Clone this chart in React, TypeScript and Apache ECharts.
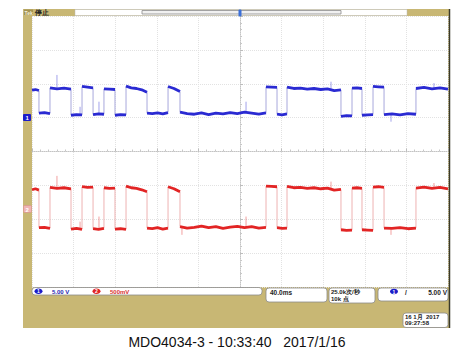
import React, { useEffect, useRef } from "react";
import * as echarts from "echarts";

// Time of each edge (ms from trigger), 40 ms/div
const edgeTimes = [-193.3, -182.7, -162.5, -151.9, -141.3, -130.8, -120.2, -109.6, -89.4, -69.2, -57.7, 25.0, 35.6, 45.2, 97.1, 107.7, 117.3, 127.9, 138.5, 169.2];

// Channel 1 levels per segment (divisions)
const ch1Levels: number[][] = [
  [1.81, 1.83, 1.8],
  [1.13, 1.15, 1.12],
  [1.88, 1.85, 1.87, 1.84],
  [1.07, 1.09, 1.08],
  [1.92, 1.9, 1.88],
  [1.09, 1.11, 1.1],
  [1.85, 1.84, 1.83],
  [1.07, 1.09, 1.08],
  [1.93, 1.88, 1.86, 1.82, 1.75],
  [1.13, 1.12, 1.14, 1.11, 1.15],
  [1.92, 1.86, 1.77],
  [1.16, 1.12, 1.1, 1.14, 1.09, 1.13, 1.11, 1.15, 1.12, 1.16, 1.13, 1.1, 1.14],
  [1.91, 1.9, 1.89],
  [1.1, 1.08, 1.11],
  [1.9, 1.86, 1.87, 1.84, 1.86, 1.83, 1.85, 1.8, 1.82],
  [1.04, 1.06, 1.05],
  [1.87, 1.88, 1.86],
  [1.07, 1.08, 1.09],
  [1.92, 1.91, 1.9],
  [1.09, 1.11, 1.08, 1.12, 1.1],
  [1.86, 1.89, 1.85, 1.88, 1.84],
];

// Channel 2 levels per segment (divisions)
const ch2Levels: number[][] = [
  [-1.13, -1.1, -1.14],
  [-2.25, -2.24, -2.27],
  [-1.06, -1.09, -1.07, -1.1],
  [-2.29, -2.27, -2.3],
  [-1.04, -1.06, -1.05],
  [-2.28, -2.3, -2.27],
  [-1.07, -1.09, -1.08],
  [-2.29, -2.28, -2.3],
  [-1.02, -1.07, -1.09, -1.13, -1.19],
  [-2.26, -2.28, -2.25, -2.29, -2.26],
  [-1.04, -1.1, -1.19],
  [-2.22, -2.26, -2.24, -2.2, -2.25, -2.22, -2.27, -2.23, -2.21, -2.25, -2.22, -2.26, -2.24],
  [-1.02, -1.03, -1.04],
  [-2.25, -2.27, -2.26],
  [-1.03, -1.07, -1.06, -1.09, -1.07, -1.1, -1.08, -1.14, -1.12],
  [-2.31, -2.33, -2.32],
  [-1.08, -1.07, -1.09],
  [-2.31, -2.32, -2.33],
  [-1.05, -1.04, -1.06],
  [-2.26, -2.27, -2.25, -2.28, -2.26],
  [-1.08, -1.05, -1.09, -1.06, -1.1],
];

// Glitches [time ms, peak level]
const ch1Spikes = [[-176, 2.26], [-153.8, 1.32], [-135.6, 1.47], [5.8, 1.47], [87.5, 2.06], [145.2, 0.88], [186.5, 2.02]];
const ch2Spikes = [[-176, -0.72], [-153.8, -2.07], [-135.6, -1.92], [-55.8, -2.46], [5.8, -1.92], [87.5, -0.89], [145.2, -2.46], [186.5, -0.93]];

const xMin = -200;
const xMax = 200;
const bounds = [xMin, ...edgeTimes, xMax];

function levelSeries(levels: number[][]) {
  const out: any[] = [];
  levels.forEach((seg, i) => {
    const t0 = bounds[i];
    const t1 = bounds[i + 1];
    seg.forEach((v, k) => {
      out.push([t0 + ((t1 - t0) * k) / (seg.length - 1), v]);
    });
    out.push(null);
  });
  return out;
}

function edgeSeries(levels: number[][]) {
  const out: any[] = [];
  edgeTimes.forEach((t, i) => {
    const a = levels[i][levels[i].length - 1];
    const b = levels[i + 1][0];
    out.push([t, a], [t, b], null);
  });
  return out;
}

function spikeSeries(levels: number[][], spikes: number[][]) {
  const out: any[] = [];
  spikes.forEach(([t, p]) => {
    let idx = 0;
    for (let i = 0; i < bounds.length - 1; i++) if (t >= bounds[i] && t < bounds[i + 1]) idx = i;
    const seg = levels[idx];
    const base = seg.reduce((s, v) => s + v, 0) / seg.length;
    out.push([t, base], [t, p], null);
  });
  return out;
}

const TAN = "#c8b774";
const BLUE = "#2a2ad2";
const RED = "#e22424";
const FONT = "Liberation Sans, Arial, sans-serif";

export default function App() {
  const ref = useRef<HTMLDivElement>(null);
  useEffect(() => {
    const chart = echarts.init(ref.current!, null, { renderer: "svg" });
    const txt = (x: number, y: number, text: string, fill: string, size = 6.5, extra: any = {}) => ({
      type: "text",
      x,
      y,
      z: 5,
      style: { text, fill, font: `bold ${size}px ${FONT}`, textVerticalAlign: "top", ...extra },
    });
    const box = (x: number, y: number, w: number, h: number) => ({
      type: "rect",
      z: 4,
      shape: { x, y, width: w, height: h, r: 3 },
      style: { fill: "#ffffff", stroke: "#8a8a8a", lineWidth: 0.8 },
    });
    const badge = (x: number, y: number, fill: string, label: string) => ({
      type: "group",
      z: 5,
      children: [
        { type: "ellipse", z: 5, shape: { cx: x, cy: y, rx: 4, ry: 2.8 }, style: { fill } },
        { type: "text", z: 6, x, y, style: { text: label, fill: "#fff", font: `bold 5px ${FONT}`, textAlign: "center", textVerticalAlign: "middle" } },
      ],
    });
    const option: any = {
      animation: false,
      grid: { left: 32, top: 16, width: 416, height: 271, show: true, backgroundColor: "#ffffff", borderWidth: 0 },
      xAxis: {
        type: "value",
        min: xMin,
        max: xMax,
        interval: 40,
        axisLabel: { show: false },
        axisLine: { show: true, onZero: true, lineStyle: { color: "#c4c4c4", width: 1, type: "dotted" } },
        axisTick: { show: true, length: 3, inside: true, lineStyle: { color: "#bdbdbd" } },
        minorTick: { show: true, splitNumber: 5, length: 2, lineStyle: { color: "#c8c8c8" } },
        splitLine: { show: true, lineStyle: { color: "#e2e2e2", type: "dotted", width: 1 } },
      },
      yAxis: {
        type: "value",
        min: -4,
        max: 4,
        interval: 1,
        axisLabel: { show: false },
        axisLine: { show: true, onZero: true, lineStyle: { color: "#c4c4c4", width: 1, type: "dotted" } },
        axisTick: { show: true, length: 3, inside: true, lineStyle: { color: "#bdbdbd" } },
        minorTick: { show: true, splitNumber: 5, length: 2, lineStyle: { color: "#c8c8c8" } },
        splitLine: { show: true, lineStyle: { color: "#e2e2e2", type: "dotted", width: 1 } },
      },
      series: [
        { name: "ch1 edges", type: "line", data: edgeSeries(ch1Levels), showSymbol: false, symbol: "none", lineStyle: { color: "#a8a8dc", width: 1 } },
        { name: "ch2 edges", type: "line", data: edgeSeries(ch2Levels), showSymbol: false, symbol: "none", lineStyle: { color: "#eeb2b2", width: 1 } },
        { name: "ch1 spikes", type: "line", data: spikeSeries(ch1Levels, ch1Spikes), showSymbol: false, symbol: "none", lineStyle: { color: BLUE, width: 0.8, opacity: 0.55 } },
        { name: "ch2 spikes", type: "line", data: spikeSeries(ch2Levels, ch2Spikes), showSymbol: false, symbol: "none", lineStyle: { color: RED, width: 0.8, opacity: 0.55 } },
        { name: "ch1", type: "line", data: levelSeries(ch1Levels), showSymbol: false, symbol: "none", lineStyle: { color: BLUE, width: 2.8 } },
        { name: "ch2", type: "line", data: levelSeries(ch2Levels), showSymbol: false, symbol: "none", lineStyle: { color: RED, width: 2.8 } },
      ],
      graphic: [
        // instrument frame
        { type: "rect", z: -10, shape: { x: 23, y: 9, width: 427, height: 319 }, style: { fill: TAN } },
        { type: "line", z: 5, shape: { x1: 449.5, y1: 9, x2: 449.5, y2: 328 }, style: { stroke: "#3a3a2a", lineWidth: 1.5 } },
        // top record bar
        { type: "rect", z: 4, shape: { x: 75, y: 9.5, width: 332, height: 6 }, style: { fill: "#ffffff", stroke: "#b9b9b9", lineWidth: 0.5 } },
        { type: "rect", z: 4, shape: { x: 142, y: 10.5, width: 199, height: 3.5 }, style: { fill: "#f1f1f1", stroke: "#8c8c8c", lineWidth: 0.8 } },
        { type: "rect", z: 5, shape: { x: 238.5, y: 9.5, width: 3, height: 7, r: 1 }, style: { fill: "#3a6fd8" } },
        { type: "rect", z: 4, shape: { x: 24, y: 9.5, width: 9, height: 5.5 }, style: { fill: "#a39250" } },
        txt(24.5, 10, "Tek", "#f3f0dc", 5),
        txt(35, 9, "停止", "#222", 7),
        // channel markers
        { type: "rect", z: 5, shape: { x: 23, y: 114, width: 8, height: 7, r: 1 }, style: { fill: "#1c1cc8" } },
        txt(25.5, 115, "1", "#ffffff", 6),
        { type: "rect", z: 5, shape: { x: 23.5, y: 205.5, width: 8, height: 7, r: 1 }, style: { fill: "#efb4b4", stroke: "#d88a8a", lineWidth: 0.5 } },
        txt(25.5, 206.5, "2", "#ffffff", 6),
        // bottom status boxes
        box(32, 287.5, 230, 7.5),
        badge(38.5, 291.2, "#1c1cc8", "1"),
        txt(52, 288.5, "5.00 V", "#2626b0", 6),
        badge(96.5, 291.2, "#e02424", "2"),
        txt(110, 288.5, "500mV", "#d83030", 6),
        box(266, 288, 61, 14),
        txt(270, 289, "40.0ms", "#222", 6.5),
        box(329, 288, 46, 15),
        txt(331, 289, "25.0k次/秒", "#222", 6),
        txt(331, 295.5, "10k 点", "#222", 6),
        box(378, 288, 70, 13),
        badge(394, 291.5, "#1c1cc8", "1"),
        txt(405, 289, "/", "#222", 6.5),
        txt(447, 289, "5.00 V", "#222", 6.5, { textAlign: "right" }),
        box(403, 313, 45, 14.5),
        txt(405, 313.5, "16 1月  2017", "#222", 6),
        txt(405, 320, "09:27:58", "#222", 6),
        // caption
        {
          type: "text",
          x: 237,
          y: 341.5,
          z: 5,
          style: { text: "MDO4034-3 - 10:33:40   2017/1/16", fill: "#111", font: `14px ${FONT}`, textAlign: "center", textVerticalAlign: "middle" },
        },
      ],
    };
    chart.setOption(option);
    return () => chart.dispose();
  }, []);
  return <div ref={ref} style={{ position: "absolute", left: 0, top: 0, width: 474, height: 355, background: "#fff" }} />;
}
